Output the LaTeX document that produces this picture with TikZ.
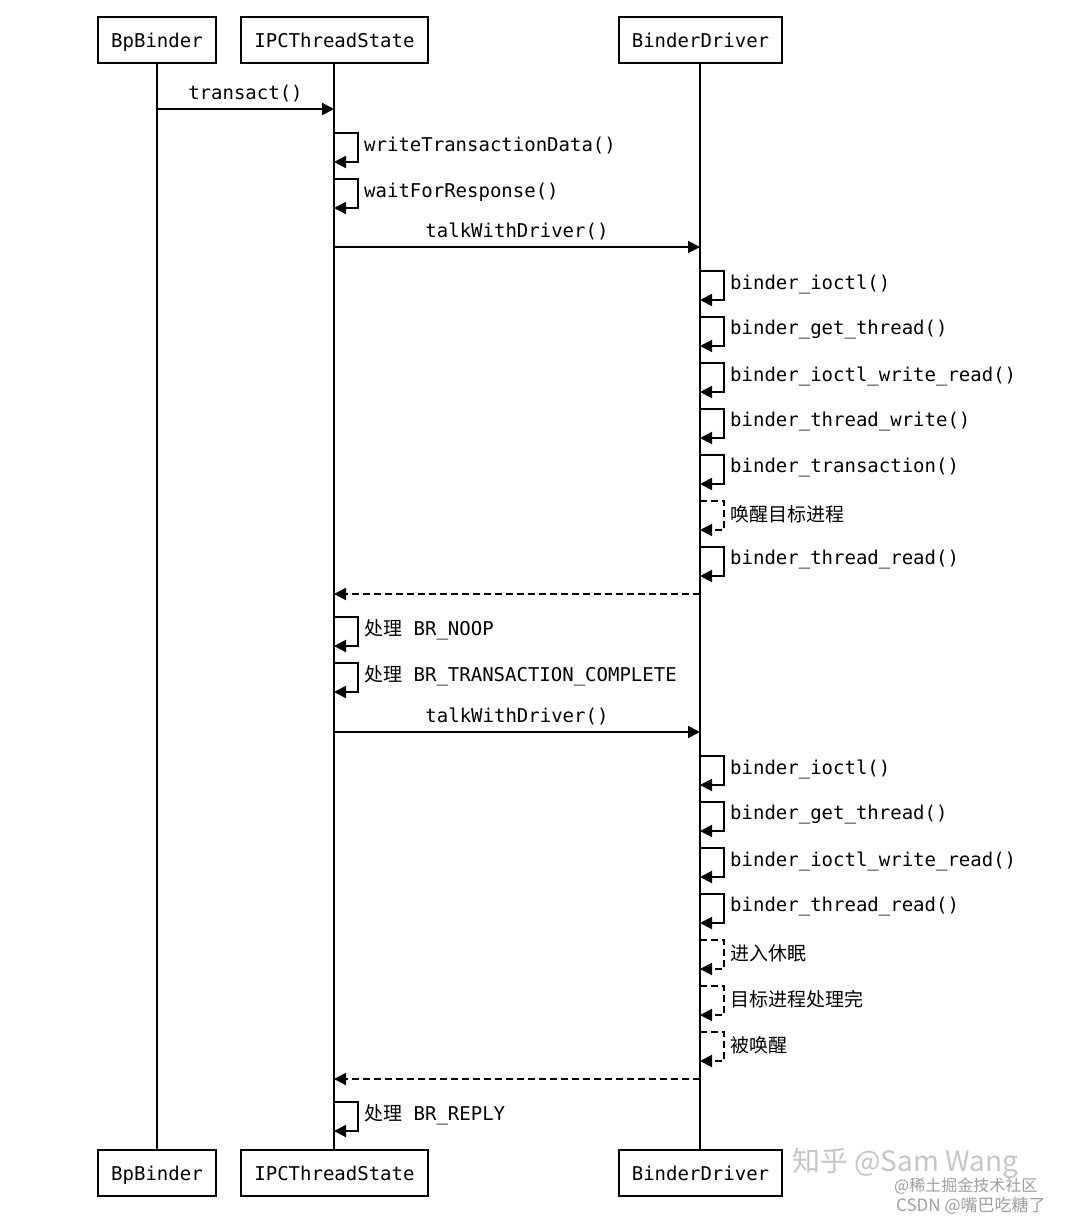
\documentclass[tikz,border=0pt]{standalone}
\usepackage{fontspec}
\setmonofont{DejaVu Sans Mono}
\newfontfamily\cjk{Noto Sans CJK SC}
\usetikzlibrary{arrows.meta}
\tikzset{
  actor/.style={draw,line width=2pt,minimum height=46pt,font=\ttfamily\fontsize{19}{21}\selectfont,text height=19pt,text depth=4pt,inner ysep=0pt},
  life/.style={line width=2pt},
  msg/.style={line width=2pt,-{Triangle[length=12pt,width=12pt]}},
  ret/.style={msg,dash pattern=on 7pt off 4pt},
  lbl/.style={font=\ttfamily\fontsize{19}{21}\selectfont,inner sep=0pt},
  wm/.style={text=gray!45,inner sep=0pt}
}
\newcommand{\selfloop}[4][]{% [style] lifeline-x, label-y, text
  \coordinate (a#2#3) at (#2,#3-11);
  \coordinate (b#2#3) at (#2,#3+18);
  \draw[msg,#1] (a#2#3) -- ++(24,0) |- (b#2#3);
  \node[lbl,anchor=west] (t#2#3) at (#2+30,#3+2) {#4};
}
\begin{document}
\begin{tikzpicture}[x=1pt,y=-1pt]
\useasboundingbox (0,0) rectangle (1080,1219);
\fill[white] (0,0) rectangle (1080,1219);
\node[actor,minimum width=118pt] (bp) at (157,40) {BpBinder};
\node[actor,minimum width=187pt] (ipc) at (334.5,40) {IPCThreadState};
\node[actor,minimum width=163pt] (drv) at (700.5,40) {BinderDriver};
\node[actor,minimum width=118pt] (bp2) at (157,1173) {BpBinder};
\node[actor,minimum width=187pt] (ipc2) at (334.5,1173) {IPCThreadState};
\node[actor,minimum width=163pt] (drv2) at (700.5,1173) {BinderDriver};
\draw[life] (bp.south) -- (bp2.north);
\draw[life] (334,63) -- (334,1150);
\draw[life] (700,63) -- (700,1150);
% transact
\coordinate (m1s) at (157,109); \coordinate (m1e) at (334,109);
\draw[msg] (m1s) -- node[lbl,above=6pt] {transact()} (m1e);
\selfloop{334}{144}{writeTransactionData()}
\selfloop{334}{190}{waitForResponse()}
\coordinate (m2s) at (334,247); \coordinate (m2e) at (700,247);
\draw[msg] (m2s) -- node[lbl,above=6pt] {talkWithDriver()} (m2e);
\selfloop{700}{282}{binder\_ioctl()}
\selfloop{700}{328}{binder\_get\_thread()}
\selfloop{700}{374}{binder\_ioctl\_write\_read()}
\selfloop{700}{420}{binder\_thread\_write()}
\selfloop{700}{466}{binder\_transaction()}
\selfloop[dash pattern=on 7pt off 4pt]{700}{512}{{\cjk 唤醒目标进程}}
\selfloop{700}{558}{binder\_thread\_read()}
\coordinate (r1s) at (700,594); \coordinate (r1e) at (334,594);
\draw[ret] (r1s) -- (r1e);
\selfloop{334}{628}{{\cjk 处理} BR\_NOOP}
\selfloop{334}{674}{{\cjk 处理} BR\_TRANSACTION\_COMPLETE}
\coordinate (m3s) at (334,732); \coordinate (m3e) at (700,732);
\draw[msg] (m3s) -- node[lbl,above=6pt] {talkWithDriver()} (m3e);
\selfloop{700}{767}{binder\_ioctl()}
\selfloop{700}{813}{binder\_get\_thread()}
\selfloop{700}{859}{binder\_ioctl\_write\_read()}
\selfloop{700}{905}{binder\_thread\_read()}
\selfloop[dash pattern=on 7pt off 4pt]{700}{951}{{\cjk 进入休眠}}
\selfloop[dash pattern=on 7pt off 4pt]{700}{997}{{\cjk 目标进程处理完}}
\selfloop[dash pattern=on 7pt off 4pt]{700}{1043}{{\cjk 被唤醒}}
\coordinate (r2s) at (700,1079); \coordinate (r2e) at (334,1079);
\draw[ret] (r2s) -- (r2e);
\selfloop{334}{1113}{{\cjk 处理} BR\_REPLY}
% watermarks
\node[wm,anchor=west,font=\cjk\fontsize{28}{30}\selectfont] (w1) at (792,1163) {知乎 @Sam Wang};
\node[wm,anchor=west,text=gray!75,font=\cjk\fontsize{16}{18}\selectfont] (w2) at (894,1186) {@稀土掘金技术社区};
\node[wm,anchor=west,text=gray!75,font=\cjk\fontsize{17}{19}\selectfont] (w3) at (896,1206) {CSDN @嘴巴吃糖了};
\end{tikzpicture}
\end{document}
